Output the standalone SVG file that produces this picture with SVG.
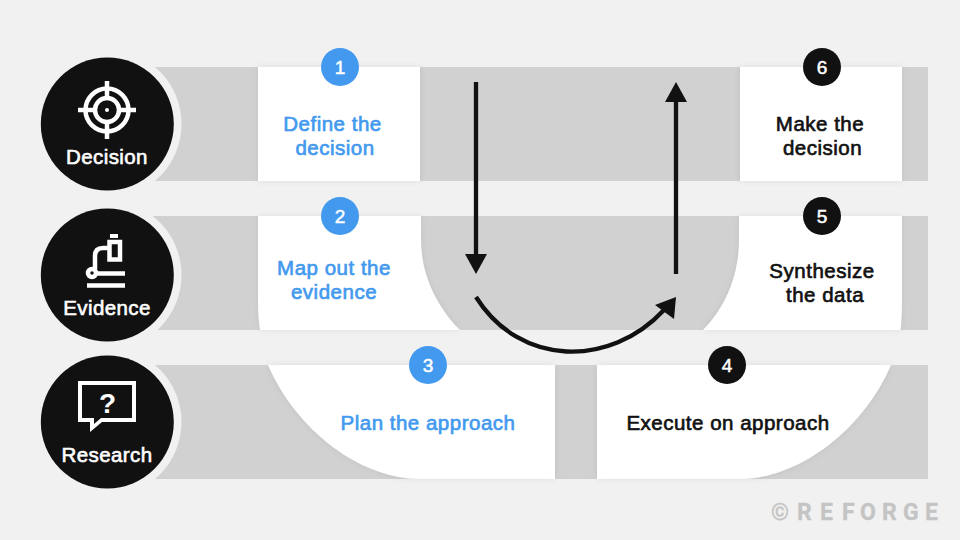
<svg xmlns="http://www.w3.org/2000/svg" width="960" height="540" viewBox="0 0 960 540">
<style>
.band{fill:#d1d1d1}
.card{fill:#fff;filter:url(#sh)}
.halo{fill:#f1f1f1}
.disc{fill:#111}
.lbl{font-family:"Liberation Sans",sans-serif;font-size:20.500px;letter-spacing:.4px;fill:#fff;stroke:#fff;stroke-width:.6;text-anchor:middle}
.t{font-family:"Liberation Sans",sans-serif;font-size:20.500px;letter-spacing:.5px;stroke-width:.65;text-anchor:middle}
.blue{fill:#4299ee;stroke:#4299ee}
.dark{fill:#111;stroke:#111}
.flat{stroke:none}
.num{font-family:"Liberation Sans",sans-serif;font-size:19px;fill:#fff;stroke:#fff;stroke-width:.5;text-anchor:middle}
.ic{fill:none;stroke:#fff;stroke-width:4.500}
.ln{fill:none;stroke:#111;stroke-width:4.300}
</style>
<defs>
<filter id="sh" x="-10%" y="-10%" width="120%" height="120%"><feDropShadow dx="0" dy="0" stdDeviation="3" flood-color="#000" flood-opacity="0.08"/></filter>
</defs>
<rect width="960" height="540" fill="#f1f1f1"/>
<g id="bands">
<rect class="band" x="150" y="67" width="778" height="114"/>
<rect class="band" x="150" y="216" width="778" height="114"/>
<rect class="band" x="150" y="365" width="778" height="114"/>
</g>
<g id="node-1"><rect class="card" x="258" y="67" width="162" height="114"/><circle class="blue flat" cx="340" cy="67" r="19"/><text class="num" x="340" y="73.500">1</text><text class="t blue" x="332.500" y="131">Define the</text><text class="t blue" x="335" y="155">decision</text></g>
<g id="node-6"><rect class="card" x="740" y="67" width="162" height="114"/><circle class="dark flat" cx="822" cy="67" r="19"/><text class="num" x="822" y="73.500">6</text><text class="t dark" x="820" y="131">Make the</text><text class="t dark" x="822.500" y="155">decision</text></g>
<g id="node-2"><path class="card" d="M258,216H421V240C421,276 438,308 460,330H260Q258,318 258,300Z"/><circle class="blue flat" cx="340" cy="216" r="19"/><text class="num" x="340" y="222.500">2</text><text class="t blue" x="334" y="275">Map out the</text><text class="t blue" x="334" y="299">evidence</text></g>
<g id="node-5"><path class="card" d="M902,216H739V240C739,276 725,308 703,330H900.500Q902,318 902,300Z"/><circle class="dark flat" cx="822" cy="216" r="19"/><text class="num" x="822" y="222.500">5</text><text class="t dark" x="822" y="278">Synthesize</text><text class="t dark" x="825" y="302">the data</text></g>
<g id="node-3"><path class="card" d="M268,365H555V479H420C360,479 296,430 268,365Z"/><circle class="blue flat" cx="428" cy="365" r="19"/><text class="num" x="428" y="371.500">3</text><text class="t blue" x="428" y="430">Plan the approach</text></g>
<g id="node-4"><path class="card" d="M597,365H891C863,430 799,479 739,479H597Z"/><circle class="dark flat" cx="727" cy="365" r="19"/><text class="num" x="727" y="371.500">4</text><text class="t dark" x="728" y="430">Execute on approach</text></g>
<g id="connectors">
<path class="ln" d="M476,82V256"/><polygon class="dark flat" points="465,254 487,254 476,274"/>
<path class="ln" d="M676,274V100"/><polygon class="dark flat" points="665,102 687,102 676,82"/>
<path class="ln" d="M476,297C520,367 610,368 664,310"/><polygon class="dark flat" points="676,297 674,319 655,305"/>
</g>
<g id="decision"><circle class="halo" cx="107" cy="124" r="74.500"/><circle class="disc" cx="107.300" cy="124" r="66.500"/>
<g class="ic"><circle cx="107" cy="110" r="21.500"/><circle cx="107" cy="110" r="12"/><path d="M78,110H94M120,110H136M107,81V97M107,123V139"/></g><circle cx="107" cy="110" r="2" fill="#fff"/>
<text class="lbl" x="107" y="163.500">Decision</text></g>
<g id="evidence"><circle class="halo" cx="107" cy="275" r="74.500"/><circle class="disc" cx="107.300" cy="275" r="66.500"/>
<g class="ic"><path d="M87,285.500H125M96,273.500H125"/><circle cx="92" cy="273" r="4"/><path d="M95,269V256Q95,248 103,248H108"/><rect x="109.500" y="242" width="10.500" height="17.500"/></g><rect x="110" y="234" width="8" height="4" fill="#fff"/>
<text class="lbl" x="107" y="315">Evidence</text></g>
<g id="research"><circle class="halo" cx="107" cy="422" r="74.500"/><circle class="disc" cx="107.300" cy="422" r="66.500"/>
<path fill="#fff" d="M78,381H136V422H102L90,432V422H78ZM82,385V418H94V424L101,418H132V385Z" fill-rule="evenodd"/>
<text x="107.500" y="413" font-family="Liberation Sans,sans-serif" font-weight="700" font-size="28" fill="#fff" text-anchor="middle">?</text>
<text class="lbl" x="107" y="462">Research</text></g>
<text x="771 797 820 842 860 882 903 925" y="520" font-family="Roboto,sans-serif" font-weight="700" font-size="23" fill="#c4c4c4" stroke="#c4c4c4" stroke-width=".3">©REFORGE</text>
</svg>
